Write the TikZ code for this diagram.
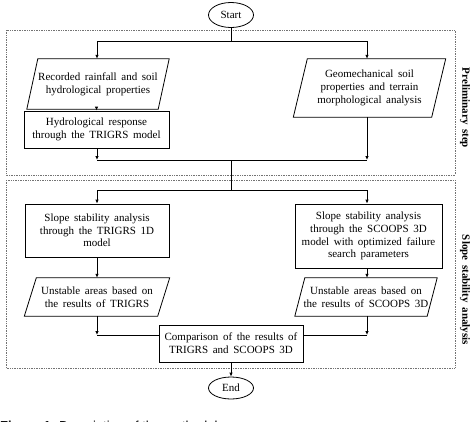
\documentclass[tikz,border=0pt]{standalone}
\usepackage{fontspec}
\setmainfont{Liberation Serif}
\newfontfamily\capfont{Liberation Sans}
\usetikzlibrary{arrows.meta,shapes.geometric,calc}
\newcommand\paraout[2]{\draw[line width=0.8pt] ($(#1.north west)+(0.5*#2,0)$) -- ($(#1.north east)+(0.5*#2,0)$) -- ($(#1.south east)+(-0.5*#2,0)$) -- ($(#1.south west)+(-0.5*#2,0)$) -- cycle;}
\newcommand\widesp{\spaceskip=0.42em plus 0.1em\relax}
\begin{document}
\begin{tikzpicture}[x=1pt,y=-1pt,
  txt/.style={align=center, inner sep=0pt, font=\fontsize{11}{12.7}\selectfont\widesp},
  box/.style={txt, draw, line width=0.8pt},
  para/.style={txt},
  term/.style={txt, draw, ellipse, line width=0.8pt},
  link/.style={line width=0.8pt},
  arr/.style={line width=0.8pt, -{Latex[length=4pt,width=3.5pt]}},
  frame/.style={draw=black!55, densely dotted, line width=0.7pt},
  side/.style={rotate=-90, inner sep=0pt, font=\bfseries\fontsize{11}{13}\selectfont\widesp}]
\useasboundingbox (0,0) rectangle (474,421);
\clip (0,0) rectangle (474,421);
% frames
\draw[frame] (6,30) rectangle (455,175);
\draw[frame] (6,180) rectangle (455,368);
\node[side] (lab1) at (465,108) {Preliminary step};
\node[side] (lab2) at (465,290) {Slope stability analysis};
% nodes
\node[term, minimum width=45pt, minimum height=25pt] (start) at (231,15) {Start};
\node[para, minimum width=131pt, minimum height=50pt] (p1) at (98,84) {Recorded rainfall and soil\\hydrological properties};
\paraout{p1}{11}
\node[box, minimum width=145pt, minimum height=37pt] (r1) at (96.5,129.5) {Hydrological response\\through the TRIGRS model};
\node[para, minimum width=138pt, minimum height=58pt] (p2) at (369.5,88) {Geomechanical soil\\properties and terrain\\morphological analysis};
\paraout{p2}{14}
\node[box, minimum width=144pt, minimum height=53pt] (r2) at (97,230.5) {Slope stability analysis\\through the TRIGRS 1D\\model};
\node[box, minimum width=147pt, minimum height=64pt] (r3) at (368.5,236) {Slope stability analysis\\through the SCOOPS 3D\\model with optimized failure\\search parameters};
\node[para, minimum width=133pt, minimum height=38pt] (p3) at (97,297) {Unstable areas based on\\the results of TRIGRS};
\paraout{p3}{12}
\node[para, minimum width=132pt, minimum height=38pt] (p4) at (366,297) {Unstable areas based on\\the results of SCOOPS 3D};
\paraout{p4}{10}
\node[box, minimum width=144pt, minimum height=37pt] (cmp) at (231,343.5) {Comparison of the results of\\TRIGRS and SCOOPS 3D};
\node[term, minimum width=45pt, minimum height=22pt] (end) at (231,388) {End};
\node[anchor=base west, inner sep=0pt, font=\capfont\fontsize{13}{15}\selectfont] (cap) at (0,430) {\textbf{Figure 1.} Description of the methodology.};
% junction points
\coordinate (aC) at (231,41);
\coordinate (aL) at (97,41);
\coordinate (aR) at (367,41);
\coordinate (mL) at (97,160);
\coordinate (mR) at (367,160);
\coordinate (mC) at (231,160);
\coordinate (bC) at (231,190);
\coordinate (bL) at (97,190);
\coordinate (bR) at (367,190);
\coordinate (jL) at (97,335);
\coordinate (jR) at (367,335);
% connectors
\draw[link] (start.south) -- (aC);
\draw[link] (aL) -- (aR);
\draw[arr] (aL) -- (aL |- p1.north);
\draw[arr] (aR) -- (aR |- p2.north);
\draw[arr] (p1.south -| r1.north) -- (r1.north);
\draw[arr] (r1.south -| mL) -- (mL);
\draw[arr] (p2.south -| mR) -- (mR);
\draw[link] (mL) -- (mR);
\draw[link] (mC) -- (bC);
\draw[link] (bL) -- (bR);
\draw[arr] (bL) -- (bL |- r2.north);
\draw[arr] (bR) -- (bR |- r3.north);
\draw[arr] (r2.south -| jL) -- (jL |- p3.north);
\draw[arr] (r3.south -| jR) -- (jR |- p4.north);
\draw[arr] (p3.south -| jL) -- (jL);
\draw[arr] (p4.south -| jR) -- (jR);
\draw[link] (jL) -- (jL -| cmp.west);
\draw[link] (jR) -- (jR -| cmp.east);
\draw[arr] (cmp.south) -- (end.north);
\end{tikzpicture}
\end{document}
